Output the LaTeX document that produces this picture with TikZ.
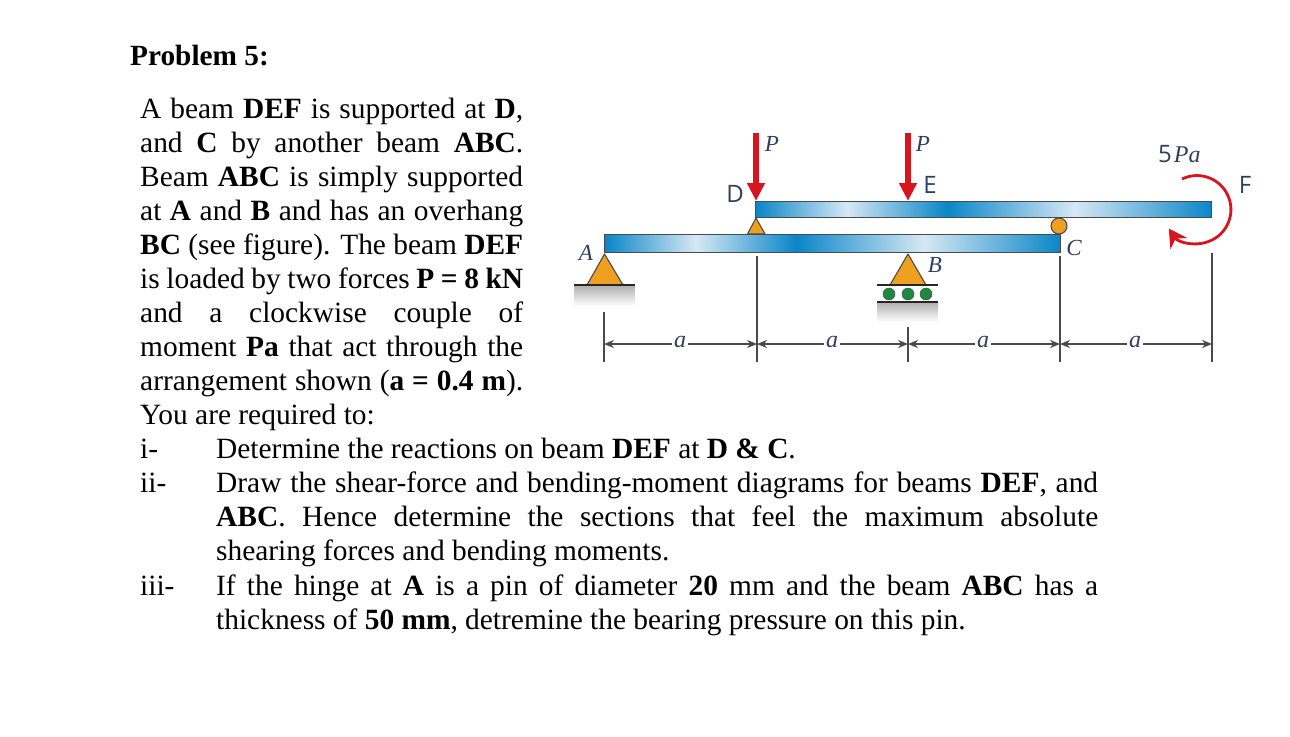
\documentclass[tikz,border=0pt]{standalone}
\usepackage{fontspec}
\setmainfont{Liberation Serif}
\newfontfamily\labelsans{Open Sans}
\usetikzlibrary{arrows.meta}

\definecolor{beamblue}{HTML}{0A86C8}
\definecolor{beamlight}{HTML}{D6E8F5}
\definecolor{supportorange}{HTML}{EFA020}
\definecolor{rollergreen}{HTML}{1C8A3E}
\definecolor{forcered}{HTML}{D8141F}
\definecolor{labelblue}{HTML}{2E3F60}
\definecolor{linegray}{HTML}{4A4A4A}

\pgfdeclarehorizontalshading{beamshade}{100bp}{color(0bp)=(beamblue); color(25bp)=(beamblue); color(35bp)=(beamlight); color(46bp)=(beamblue); color(60bp)=(beamlight); color(75bp)=(beamblue); color(100bp)=(beamblue)}

\tikzset{
	txt/.style={anchor=base west,inner sep=0,font=\fontsize{29.4}{34}\selectfont},
	beam/.style={draw=linegray,line width=1.3,shading=beamshade,anchor=north west,inner sep=0,minimum height=#1},
	support/.style={draw=linegray,line width=1.1,fill=supportorange,line join=round},
	ground/.style={top color=gray!60,bottom color=white,draw=none},
	base line/.style={draw=black!85,line width=1.8},
	roller/.style={draw=linegray,line width=.5,fill=rollergreen},
	force/.style={draw=forcered,line width=5.5,-{Triangle[length=18,width=17]}},
	moment/.style={draw=forcered,line width=2.8,-{Stealth[length=18,width=20]}},
	ext/.style={draw=linegray,line width=1.1},
	dim/.style={draw=linegray,line width=1.1,{Stealth[length=10,width=8]}-{Stealth[length=10,width=8]}},
	dimlabel/.style={fill=white,inner sep=2,text=labelblue,font=\fontsize{24}{24}\selectfont\itshape},
	tag/.style={inner sep=0,text=labelblue,font=\fontsize{23}{23}\selectfont\itshape},
	sanstag/.style={inner sep=0,text=labelblue,font=\fontsize{24}{24}\selectfont\labelsans}
}
\newcommand{\jline}[2]{\makebox[#1][s]{#2}}

\begin{document}
\begin{tikzpicture}[x=1pt,y=-1pt]
	\useasboundingbox (0,0) rectangle (1290,736);

	% text
	\node[txt,font=\fontsize{29.3}{34}\selectfont\bfseries] (title) at (130,65) {Problem 5:};
	\foreach \p [count=\q, evaluate=\q as \r using 118+34.07*(\q-1)] in {
		{A beam \textbf{DEF} is supported at \textbf{D},},
		{and \textbf{C} by another beam \textbf{ABC}.},
		{Beam \textbf{ABC} is simply supported},
		{at \textbf{A} and \textbf{B} and has an overhang},
		{\textbf{BC} (see figure). The beam \textbf{DEF}},
		{is loaded by two forces \textbf{P = 8 kN}},
		{and a clockwise couple of},
		{moment \textbf{Pa} that act through the},
		{arrangement shown (\textbf{a = 0.4 m}).}} {
		\node[txt] (l\q) at (140,\r) {\jline{383pt}{\p}};
	}
	\node[txt] (l10) at (140,424.6) {You are required to:};
	\node[txt] (i1) at (140,458.7) {i-};
	\node[txt] (t1) at (216,458.7) {Determine the reactions on beam \textbf{DEF} at \textbf{D \& C}.};
	\node[txt] (i2) at (140,492.8) {ii-};
	\node[txt] (t2) at (216,492.8) {\jline{882pt}{Draw the shear-force and bending-moment diagrams for beams \textbf{DEF}, and}};
	\node[txt] (t3) at (216,526.8) {\jline{882pt}{\textbf{ABC}. Hence determine the sections that feel the maximum absolute}};
	\node[txt] (t4) at (216,560.9) {shearing forces and bending moments.};
	\node[txt] (i3) at (140,595) {iii-};
	\node[txt] (t5) at (216,595) {\jline{882pt}{If the hinge at \textbf{A} is a pin of diameter \textbf{20} mm and the beam \textbf{ABC} has a}};
	\node[txt] (t6) at (216,629) {thickness of \textbf{50 mm}, detremine the bearing pressure on this pin.};

	% supports under the lower beam
	\fill[ground] (574,286) rectangle (635,306);
	\draw[support] (604.5,254) -- (587,285) -- (623,285) -- cycle;
	\draw[base line] (574,285) -- (635,285);
	\fill[ground] (877,303) rectangle (938,322);
	\draw[support] (908,254) -- (890,285) -- (926,285) -- cycle;
	\foreach \q in {889,908,926} {
		\draw[roller] (\q,294) circle (6pt);
	}
	\draw[base line] (877,285) -- (938,285);
	\draw[base line] (877,302) -- (938,302);

	% beams
	\draw[support] (756,218) -- (747.5,234) -- (765,234) -- cycle;
	\draw[support] (1059,226) circle (8pt);
	\node[beam=18,minimum width=456] (abc) at (604,234) {};
	\node[beam=16,minimum width=456] (def) at (755,201) {};

	% loads
	\coordinate (pd) at (756,133);
	\coordinate (pe) at (908,133);
	\draw[force] (pd) -- (pd |- def.north);
	\draw[force] (pe) -- (pe |- def.north);
	\draw[moment] (1182,179) arc[start angle=116,end angle=-146,radius=34pt];

	% dimensions
	\foreach \p/\q [count=\s] in {604/312,757/256,908/327,1060/256,1212/253} {
		\coordinate (d\s) at (\p,344);
		\draw[ext] (\p,\q) -- (\p,362);
	}
	\foreach \p/\q/\r [count=\s] in {1/2/680,2/3/832,3/4/983,4/5/1135} {
		\draw[dim] (d\p) -- (d\q);
		\node[dimlabel] (a\s) at (\r,342) {a};
	}

	% labels
	\node[tag] (pdl) at (772,144) {P};
	\node[tag] (pel) at (923,144) {P};
	\node[tag] (la) at (586,253) {A};
	\node[tag] (lb) at (935,265) {B};
	\node[tag] (lc) at (1074,248) {C};
	\node[sanstag] (ld) at (735,194) {D};
	\node[sanstag] (le) at (930,185) {E};
	\node[sanstag] (lf) at (1245,185) {F};
	\node[sanstag,anchor=west] (lm) at (1158,154) {5\kern2pt{\fontspec{Liberation Serif}\itshape Pa}};
\end{tikzpicture}
\end{document}
